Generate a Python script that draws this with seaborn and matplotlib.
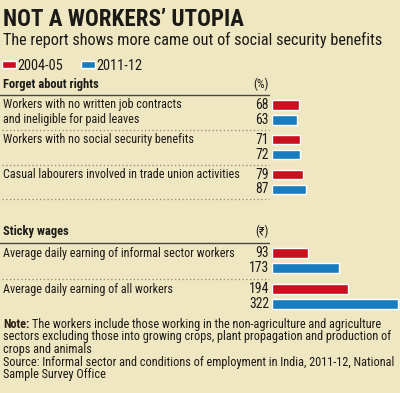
import numpy as np
import pandas as pd
import matplotlib
matplotlib.use("Agg")
import matplotlib.pyplot as plt
import matplotlib.transforms as mtransforms
from matplotlib import font_manager as fm
import seaborn as sns

# data
years = ["2004-05", "2011-12"]
rights_labels = [
    ["Workers with no written job contracts", "and ineligible for paid leaves"],
    ["Workers with no social security benefits", ""],
    ["Casual labourers involved in trade union activities", ""],
]
rights_2004 = [68, 71, 79]
rights_2011 = [63, 72, 87]

wage_labels = [
    ["Average daily earning of informal sector workers", ""],
    ["Average daily earning of all workers", ""],
]
wage_2004 = [93, 194]
wage_2011 = [173, 322]

title = "NOT A WORKERS\u2019 UTOPIA"
subtitle = "The report shows more came out of social security benefits"
note_lines = [
    "The workers include those working in the non-agriculture and agriculture",
    "sectors excluding those into growing crops, plant propagation and production of",
    "crops and animals",
]
source_lines = [
    "Source: Informal sector and conditions of employment in India, 2011-12, National",
    "Sample Survey Office",
]

BG = "#efe7c2"
RED = "#c8101e"
BLUE = "#187cbf"
INK = "#1c1a17"
DOTS = "#8c8672"


# the reference uses a condensed face; take the narrowest one we can find
def narrow_font():
    entries = fm.fontManager.ttflist
    for want in ["Liberation Sans Narrow", "Roboto Condensed", "DejaVu Sans Condensed",
                 "Open Sans Condensed", "Noto Sans Condensed"]:
        if any(e.name == want for e in entries):
            return want, "normal"
    for e in entries:
        if e.name in ("DejaVu Sans", "Liberation Sans", "Roboto", "Open Sans", "Noto Sans") \
                and e.stretch in ("condensed", "semi-condensed"):
            return e.name, e.stretch
    return "Liberation Sans", "normal"


FAM, STRETCH = narrow_font()

W, H = 400, 393
sns.set_style("white")
plt.rcParams["font.family"] = [FAM, "DejaVu Sans"]
plt.rcParams["font.stretch"] = STRETCH

fig = plt.figure(figsize=(W / 100, H / 100), dpi=100, facecolor=BG)
renderer = fig.canvas.get_renderer()


def fx(x):
    return x / W


def fy(y):
    return 1 - y / H


def fit_size(text, target, **kw):
    # font size that makes `text` about `target` pixels wide
    t = fig.text(0, 0, text, fontsize=10, **kw)
    w = t.get_window_extent(renderer).width
    t.remove()
    return 10 * target / w


LABEL_FS = fit_size("Casual labourers involved in trade union activities", 236)
VALUE_FS = fit_size("322", 20)
HEAD_FS = fit_size("Forget about rights", 96, fontweight="bold")
NOTE_FS = fit_size("Source: Informal sector and conditions of employment in India, 2011-12, National", 389)


def make_df(labels, v1, v2):
    cats = [l[0] for l in labels]
    return pd.DataFrame({
        "item": cats * 2,
        "year": [years[0]] * len(cats) + [years[1]] * len(cats),
        "value": v1 + v2,
    })


def section(top, bottom, labels, v1, v2, width, gap, header, unit, last_line, legend):
    ax = fig.add_axes([fx(272), fy(bottom), fx(128), (bottom - top) / H])
    df = make_df(labels, v1, v2)
    sns.barplot(data=df, x="value", y="item", hue="year", orient="h",
                palette=[RED, BLUE], saturation=1, width=width, gap=gap,
                errorbar=None, legend=legend, ax=ax)
    n = len(labels)
    ax.set_ylim(n - 0.5, -0.5)
    ax.set_xlim(0, 128 / 0.39)
    ax.set_axis_off()
    ax.patch.set_alpha(0)

    blend = mtransforms.blended_transform_factory(fig.transFigure, ax.transData)

    # values and row labels, placed at each bar
    for j, (cont, vals) in enumerate(zip(ax.containers, [v1, v2])):
        for i, (bar, v) in enumerate(zip(cont, vals)):
            yc = bar.get_y() + bar.get_height() / 2
            ax.annotate(str(v), xy=(0, yc), xytext=(-2.2, 0), textcoords="offset points",
                        ha="right", va="center", fontsize=VALUE_FS, color=INK,
                        annotation_clip=False)
            if labels[i][j]:
                ax.text(fx(3), yc, labels[i][j], transform=blend, ha="left",
                        va="center", fontsize=LABEL_FS, color=INK)

    # header rule and dotted separators
    ax.plot([0, fx(269)], [-0.5, -0.5], transform=blend, color="#4a4740",
            lw=1.0, clip_on=False)
    stop = n if last_line else n - 1
    for k in range(stop):
        ax.plot([fx(2), fx(269)], [k + 0.5, k + 0.5], transform=blend, color=DOTS,
                lw=0.9, ls=(0, (1, 2)), clip_on=False)

    ax.annotate(header, xy=(fx(3), -0.5), xycoords=blend, xytext=(0, 3),
                textcoords="offset points", ha="left", va="bottom",
                fontsize=HEAD_FS, fontweight="bold", color=INK, annotation_clip=False)
    ax.annotate(unit, xy=(fx(269), -0.5), xycoords=blend, xytext=(0, 3),
                textcoords="offset points", ha="right", va="bottom",
                fontsize=VALUE_FS * 0.9, color=INK, annotation_clip=False)
    return ax


ax1 = section(95, 199.4, rights_labels, rights_2004, rights_2011, 0.86, 0.37,
              "Forget about rights", "(%)", True, True)
ax2 = section(242.5, 314.5, wage_labels, wage_2004, wage_2011, 0.82, 0.36,
              "Sticky wages", "(\u20b9)", False, False)

handles, labs = ax1.get_legend_handles_labels()
ax1.get_legend().remove()
LEG_FS = fit_size("2004-05", 46)
em = LEG_FS * 100 / 72
fig.legend(handles, labs, loc="center left", bbox_to_anchor=(fx(2), fy(65.5)),
           ncol=2, frameon=False, fontsize=LEG_FS, handlelength=14 / em,
           handleheight=6 / em, handletextpad=1.5 / em, columnspacing=18 / em,
           borderaxespad=0, borderpad=0, labelcolor=INK)

fig.text(fx(3), fy(26), title, fontsize=fit_size(title, 240, fontweight="bold"),
         fontweight="bold", color=INK, va="baseline", ha="left")
fig.text(fx(3), fy(45), subtitle, fontsize=fit_size(subtitle, 377), color=INK,
         va="baseline", ha="left")

# note block
nt = fig.text(fx(3), fy(328), "Note:", fontsize=NOTE_FS, fontweight="bold",
              color="#2e1e14", va="baseline", ha="left")
bb = nt.get_window_extent(renderer)
fig.text(bb.x1 / W + fx(3), fy(328), note_lines[0], fontsize=NOTE_FS, color=INK,
         va="baseline", ha="left")
base = 340.3
for line in note_lines[1:] + source_lines:
    fig.text(fx(3), fy(base), line, fontsize=NOTE_FS, color=INK, va="baseline", ha="left")
    base += 13 if line == note_lines[-1] else 12.3

fig.savefig("out.png", dpi=100, facecolor=BG)
